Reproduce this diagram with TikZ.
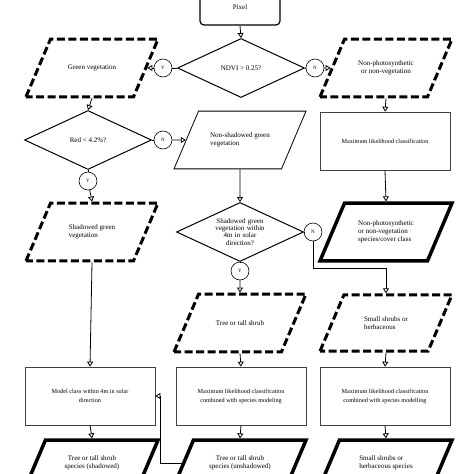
\documentclass[tikz,border=0pt]{standalone}
\usepackage{fontspec}
\setmainfont{Liberation Serif}
\usetikzlibrary{shapes.geometric,arrows.meta}

\begin{document}
\begin{tikzpicture}[x=1pt,y=-1pt,
    font=\fontsize{7}{8}\selectfont,
    arr/.style={-{Triangle[open,length=5pt,width=6pt]}},
    link/.style={line width=0.8pt},
    para/.style={trapezium, trapezium left angle=67, trapezium right angle=113,
        trapezium stretches body, minimum width=132pt,
        inner xsep=1pt, inner ysep=#1, draw, line width=0.8pt, align=center},
    para/.default=21.7pt,
    dashedthick/.style={line width=3pt, dash pattern=on 8pt off 3.5pt},
    boldline/.style={line width=3.5pt},
    dia/.style={diamond, draw, line width=1pt, minimum width=127pt,
        minimum height=59pt, aspect=2.1, inner sep=0pt, align=center,
        font=\fontsize{7}{7.2}\selectfont},
    yn/.style={circle, draw, line width=0.6pt, minimum size=18pt, inner sep=0pt,
        font=\fontsize{5}{6}\selectfont, fill=white},
    rectbox/.style={rectangle, draw=black!75, line width=0.7pt, minimum width=130pt,
        minimum height=58pt, align=center, font=\fontsize{6.2}{9}\selectfont}]
    \useasboundingbox (0,0) rectangle (474,474);

    % Top decision
    \node[rectangle, rounded corners=4pt, draw, line width=1.2pt, minimum width=80pt,
        minimum height=36pt] (pixel) at (240,7) {Pixel};
    \node[dia] (ndvi) at (241,68) {NDVI > 0.25?};
    \node[yn] (ndviy) at (163,68) {Y};
    \node[yn] (ndvin) at (315,68) {N};
    \node[para=25.7pt, dashedthick] (green) at (92,68) {Green vegetation};
    \node[para, dashedthick] (nonphoto) at (386,68) {Non-photosynthetic\\or non-vegetation};

    % Second row
    \node[dia] (red) at (88,140) {Red < 4.2\%?};
    \node[yn] (redn) at (163,140) {N};
    \node[yn] (redy) at (88,181) {Y};
    \node[para, align=left] (nonshad) at (240,140) {Non-shadowed green\\vegetation};
    \node[rectbox] (mlc) at (385,141) {Maximum likelihood classification};

    % Third row
    \node[para, dashedthick, align=left] (shad) at (92,232) {Shadowed green\\vegetation};
    \node[dia, text width=60pt] (solar) at (240,232) {Shadowed green\\vegetation within\\4m in solar\\direction?};
    \node[yn] (solarn) at (313,232) {N};
    \node[yn] (solary) at (240,271) {Y};
    \node[para=17.7pt, boldline, align=left] (npclass) at (386,232) {Non-photosynthetic\\or non-vegetation\\species/cover class};

    % Fourth row
    \node[para=26.5pt, dashedthick] (tree) at (240,323) {Tree or tall shrub};
    \node[para, dashedthick, align=left] (small) at (386,323) {Small shrubs or\\herbaceous};

    % Models
    \node[rectbox] (model) at (90,396) {Model class within 4m in solar\\direction};
    \node[rectbox] (mlcs) at (241,396) {Maximum likelihood classification\\combined with species modeling};
    \node[rectbox] (mlcs2) at (385,396) {Maximum likelihood classification\\combined with species modelling};

    % Results
    \node[para=15.7pt, boldline] (treesh) at (92,463) {Tree or tall shrub\\species (shadowed)};
    \node[para=15.7pt, boldline] (treeun) at (240,463) {Tree or tall shrub\\species (unshadowed)};
    \node[para=15.7pt, boldline, align=left] (smallsp) at (386,463) {Small shrubs or\\herbaceous species};

    % Connectors
    \draw[link, arr] (pixel.south) -- (ndvi.north);
    \draw[link] (ndvi.west) -- (ndviy);
    \draw[link, arr] (ndviy) -- (green.east);
    \draw[link] (ndvi.east) -- (ndvin);
    \draw[link, arr] (ndvin) -- (nonphoto.west);
    \draw[link, arr] (green.south) -- (red.north);
    \draw[link, arr] (nonphoto.south) -- (mlc.north);
    \draw[link] (red.east) -- (redn);
    \draw[link, arr] (redn) -- (nonshad.west);
    \draw[link] (red.south) -- (redy);
    \draw[link, arr] (redy) -- (shad.north);
    \draw[link, arr] (nonshad.south) -- (solar.north);
    \draw[link, arr] (mlc.south) -- (npclass.north);
    \draw[link] (solar.east) -- (solarn);
    \draw[link, arr] (solarn.south) -- ++(0,27) -| (small.north);
    \draw[link] (solar.south) -- (solary);
    \draw[link, arr] (solary) -- (tree.north);
    \draw[link, arr] (shad.south) -- (model.north);
    \draw[link, arr] (tree.south) -- (mlcs.north);
    \draw[link, arr] (small.south) -- (mlcs2.north);
    \draw[link, arr] (model.south) -- (treesh.north);
    \draw[link, arr] (mlcs.south) -- (treeun.north);
    \draw[link, arr] (mlcs2.south) -- (smallsp.north);
    \draw[link, arr] (treeun.west) -- ++(-21,0) |- (model.east);
\end{tikzpicture}
\end{document}
